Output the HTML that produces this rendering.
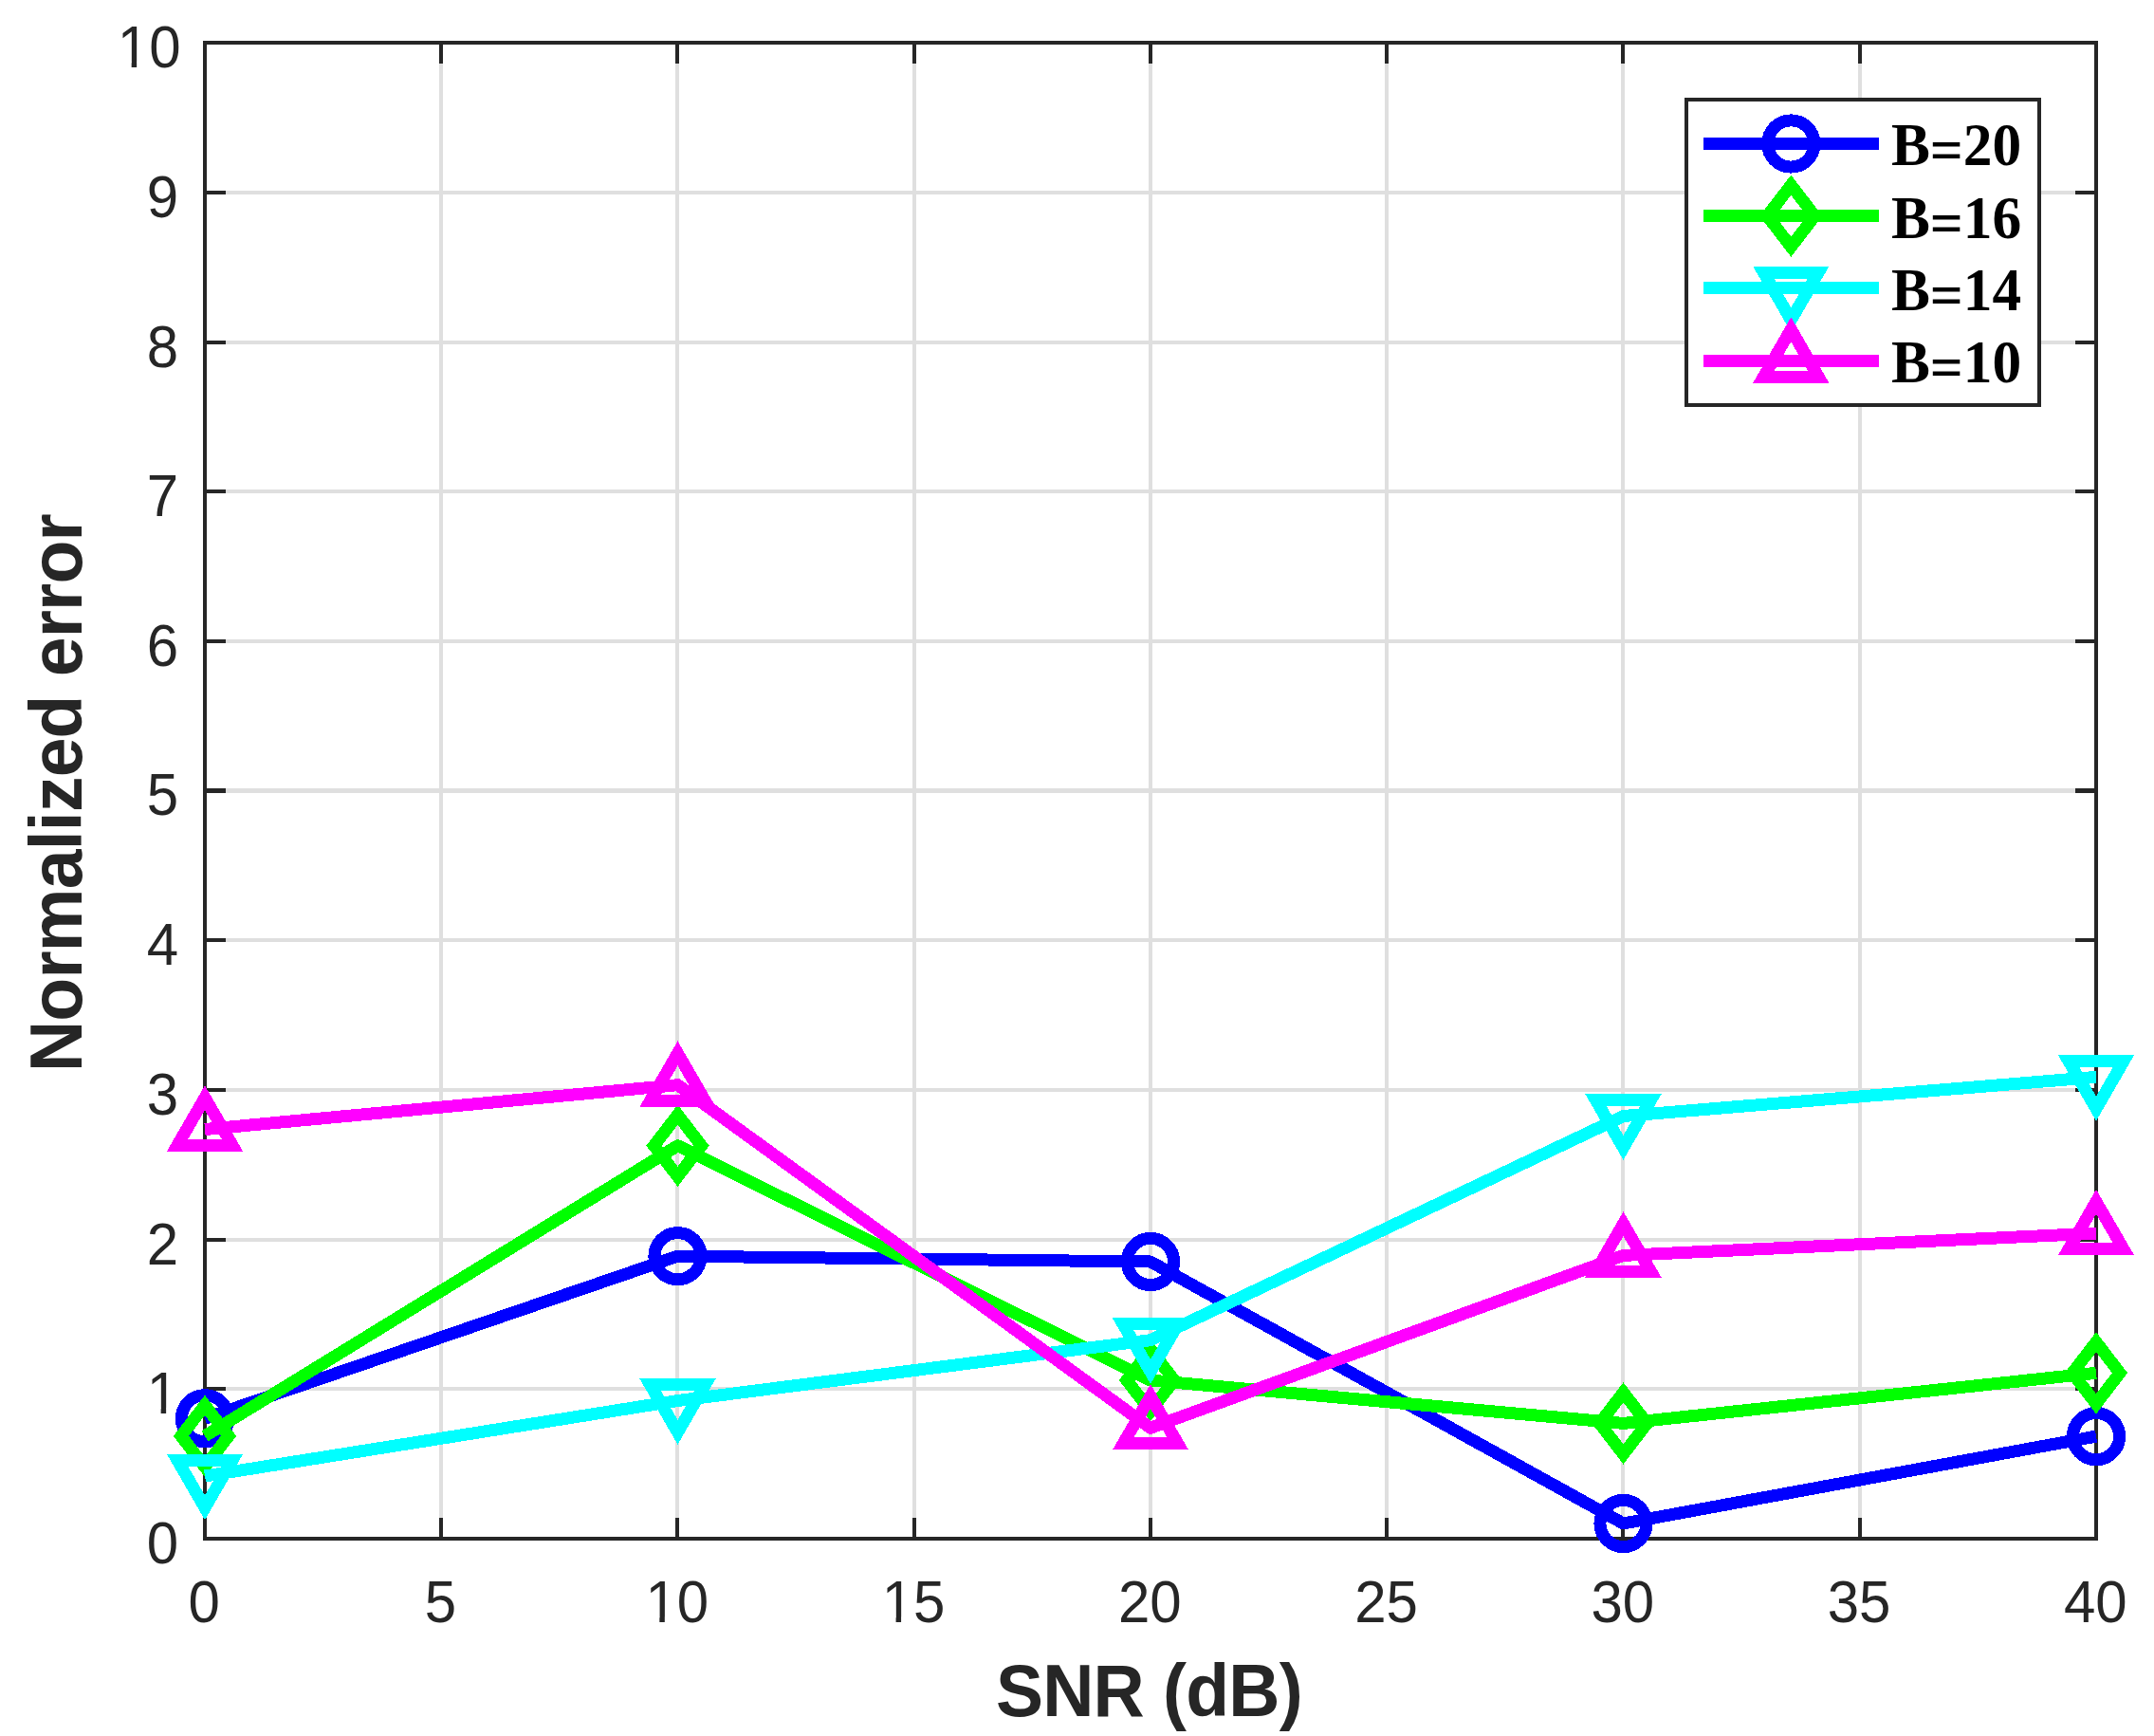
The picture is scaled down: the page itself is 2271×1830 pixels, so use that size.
<!DOCTYPE html>
<html><head><meta charset="utf-8"><title>Normalized error vs SNR</title>
<style>
html,body{margin:0;padding:0;background:#fff;}
body{width:2271px;height:1830px;overflow:hidden;}
svg{display:block;}
.tk{font-family:"Liberation Sans",Arial,Helvetica,sans-serif;font-size:60px;fill:#262626;}
.lb{font-family:"Liberation Sans",Arial,Helvetica,sans-serif;font-size:75px;font-weight:bold;fill:#262626;}
.lg{font-family:"Liberation Serif","Times New Roman",Times,serif;font-size:61.4px;font-weight:bold;fill:#000;}
</style></head><body>
<svg width="2271" height="1830" viewBox="0 0 2271 1830">
<rect x="0" y="0" width="2271" height="1830" fill="#fff"/>

<g stroke="#dfdfdf" stroke-width="4" fill="none">
<line x1="465" y1="45" x2="465" y2="1622"/>
<line x1="714" y1="45" x2="714" y2="1622"/>
<line x1="964" y1="45" x2="964" y2="1622"/>
<line x1="1213" y1="45" x2="1213" y2="1622"/>
<line x1="1462" y1="45" x2="1462" y2="1622"/>
<line x1="1711" y1="45" x2="1711" y2="1622"/>
<line x1="1961" y1="45" x2="1961" y2="1622"/>
<line x1="216" y1="1464" x2="2210" y2="1464"/>
<line x1="216" y1="1307" x2="2210" y2="1307"/>
<line x1="216" y1="1149" x2="2210" y2="1149"/>
<line x1="216" y1="991" x2="2210" y2="991"/>
<line x1="216" y1="833.5" x2="2210" y2="833.5" stroke-width="5"/>
<line x1="216" y1="676" x2="2210" y2="676"/>
<line x1="216" y1="518" x2="2210" y2="518"/>
<line x1="216" y1="361" x2="2210" y2="361"/>
<line x1="216" y1="203" x2="2210" y2="203"/>
</g>
<g stroke="#262626" stroke-width="4" fill="none">
<line x1="465" y1="1622" x2="465" y2="1600"/><line x1="465" y1="45" x2="465" y2="67"/>
<line x1="714" y1="1622" x2="714" y2="1600"/><line x1="714" y1="45" x2="714" y2="67"/>
<line x1="964" y1="1622" x2="964" y2="1600"/><line x1="964" y1="45" x2="964" y2="67"/>
<line x1="1213" y1="1622" x2="1213" y2="1600"/><line x1="1213" y1="45" x2="1213" y2="67"/>
<line x1="1462" y1="1622" x2="1462" y2="1600"/><line x1="1462" y1="45" x2="1462" y2="67"/>
<line x1="1711" y1="1622" x2="1711" y2="1600"/><line x1="1711" y1="45" x2="1711" y2="67"/>
<line x1="1961" y1="1622" x2="1961" y2="1600"/><line x1="1961" y1="45" x2="1961" y2="67"/>
<line x1="216" y1="1464" x2="238" y2="1464"/><line x1="2210" y1="1464" x2="2188" y2="1464"/>
<line x1="216" y1="1307" x2="238" y2="1307"/><line x1="2210" y1="1307" x2="2188" y2="1307"/>
<line x1="216" y1="1149" x2="238" y2="1149"/><line x1="2210" y1="1149" x2="2188" y2="1149"/>
<line x1="216" y1="991" x2="238" y2="991"/><line x1="2210" y1="991" x2="2188" y2="991"/>
<line x1="216" y1="833.5" x2="238" y2="833.5" stroke-width="5"/><line x1="2210" y1="833.5" x2="2188" y2="833.5" stroke-width="5"/>
<line x1="216" y1="676" x2="238" y2="676"/><line x1="2210" y1="676" x2="2188" y2="676"/>
<line x1="216" y1="518" x2="238" y2="518"/><line x1="2210" y1="518" x2="2188" y2="518"/>
<line x1="216" y1="361" x2="238" y2="361"/><line x1="2210" y1="361" x2="2188" y2="361"/>
<line x1="216" y1="203" x2="238" y2="203"/><line x1="2210" y1="203" x2="2188" y2="203"/>
<rect x="216" y="45" width="1994" height="1577"/>
</g>
<g class="tk" text-anchor="middle">
<text transform="translate(215.30 1710) scale(1 1.04)">0</text>
<text transform="translate(464.55 1710) scale(1 1.04)">5</text>
<text transform="translate(713.80 1710) scale(1 1.04)">10</text>
<text transform="translate(963.05 1710) scale(1 1.04)">15</text>
<text transform="translate(1212.30 1710) scale(1 1.04)">20</text>
<text transform="translate(1461.55 1710) scale(1 1.04)">25</text>
<text transform="translate(1710.80 1710) scale(1 1.04)">30</text>
<text transform="translate(1960.05 1710) scale(1 1.04)">35</text>
<text transform="translate(2209.30 1710) scale(1 1.04)">40</text>
</g>
<g class="tk" text-anchor="end">
<text transform="translate(188.1 1647.80) scale(1 1.04)">0</text>
<text transform="translate(188.1 1489.80) scale(1 1.04)">1</text>
<text transform="translate(188.1 1332.80) scale(1 1.04)">2</text>
<text transform="translate(188.1 1174.80) scale(1 1.04)">3</text>
<text transform="translate(188.1 1016.80) scale(1 1.04)">4</text>
<text transform="translate(188.1 859.30) scale(1 1.04)">5</text>
<text transform="translate(188.1 701.80) scale(1 1.04)">6</text>
<text transform="translate(188.1 543.80) scale(1 1.04)">7</text>
<text transform="translate(188.1 386.80) scale(1 1.04)">8</text>
<text transform="translate(188.1 228.80) scale(1 1.04)">9</text>
<text transform="translate(190.5 70.80) scale(1 1.04)">10</text>
</g>
<rect x="684.03" y="1704.65" width="11.30" height="6.6" fill="#fff"/><rect x="700.82" y="1704.65" width="11" height="6.6" fill="#fff"/>
<rect x="933.28" y="1704.65" width="11.30" height="6.6" fill="#fff"/><rect x="950.07" y="1704.65" width="11" height="6.6" fill="#fff"/>
<rect x="127.36" y="65.45" width="11.30" height="6.6" fill="#fff"/><rect x="144.15" y="65.45" width="11" height="6.6" fill="#fff"/>
<rect x="158.33" y="1484.45" width="11.30" height="6.6" fill="#fff"/><rect x="175.12" y="1484.45" width="11" height="6.6" fill="#fff"/>
<text class="lb" text-anchor="middle" letter-spacing="-0.75" transform="translate(1211.4 1809) scale(1 1.04)">SNR (dB)</text>
<text class="lb" text-anchor="middle" letter-spacing="-0.75" transform="translate(86 836) rotate(-90) scale(1 1.04)">Normalized error</text>
<g shape-rendering="crispEdges">
<polyline points="216,1495.2 714.5,1324.2 1213,1330 1711.5,1606 2210,1514.1" fill="none" stroke="#0000ff" stroke-width="13" stroke-linejoin="round" stroke-linecap="butt"/>
<circle cx="216" cy="1495.2" r="24.6" stroke="#0000ff" stroke-width="13" fill="none" stroke-linejoin="miter" stroke-miterlimit="10"/>
<circle cx="714.5" cy="1324.2" r="24.6" stroke="#0000ff" stroke-width="13" fill="none" stroke-linejoin="miter" stroke-miterlimit="10"/>
<circle cx="1213" cy="1330" r="24.6" stroke="#0000ff" stroke-width="13" fill="none" stroke-linejoin="miter" stroke-miterlimit="10"/>
<circle cx="1711.5" cy="1606" r="24.6" stroke="#0000ff" stroke-width="13" fill="none" stroke-linejoin="miter" stroke-miterlimit="10"/>
<circle cx="2210" cy="1514.1" r="24.6" stroke="#0000ff" stroke-width="13" fill="none" stroke-linejoin="miter" stroke-miterlimit="10"/>
<polyline points="216,1513.8 714.5,1207.7 1213,1455 1711.5,1500.4 2210,1447.3" fill="none" stroke="#00ff00" stroke-width="13" stroke-linejoin="round" stroke-linecap="butt"/>
<path d="M216 1481.3L241 1513.8L216 1546.3L191 1513.8Z" stroke="#00ff00" stroke-width="13" fill="none" stroke-linejoin="miter" stroke-miterlimit="10"/>
<path d="M714.5 1175.2L739.5 1207.7L714.5 1240.2L689.5 1207.7Z" stroke="#00ff00" stroke-width="13" fill="none" stroke-linejoin="miter" stroke-miterlimit="10"/>
<path d="M1213 1422.5L1238 1455L1213 1487.5L1188 1455Z" stroke="#00ff00" stroke-width="13" fill="none" stroke-linejoin="miter" stroke-miterlimit="10"/>
<path d="M1711.5 1467.9L1736.5 1500.4L1711.5 1532.9L1686.5 1500.4Z" stroke="#00ff00" stroke-width="13" fill="none" stroke-linejoin="miter" stroke-miterlimit="10"/>
<path d="M2210 1414.8L2235 1447.3L2210 1479.8L2185 1447.3Z" stroke="#00ff00" stroke-width="13" fill="none" stroke-linejoin="miter" stroke-miterlimit="10"/>
<polyline points="216,1556.0 714.5,1476.5 1213,1412.65 1711.5,1176.5 2210,1135.4" fill="none" stroke="#00ffff" stroke-width="13" stroke-linejoin="round" stroke-linecap="butt"/>
<path d="M216 1589.33L244.87 1539.33L187.13 1539.33Z" stroke="#00ffff" stroke-width="13" fill="none" stroke-linejoin="miter" stroke-miterlimit="10"/>
<path d="M714.5 1509.83L743.37 1459.83L685.63 1459.83Z" stroke="#00ffff" stroke-width="13" fill="none" stroke-linejoin="miter" stroke-miterlimit="10"/>
<path d="M1213 1445.98L1241.87 1395.98L1184.13 1395.98Z" stroke="#00ffff" stroke-width="13" fill="none" stroke-linejoin="miter" stroke-miterlimit="10"/>
<path d="M1711.5 1209.83L1740.37 1159.83L1682.63 1159.83Z" stroke="#00ffff" stroke-width="13" fill="none" stroke-linejoin="miter" stroke-miterlimit="10"/>
<path d="M2210 1168.73L2238.87 1118.73L2181.13 1118.73Z" stroke="#00ffff" stroke-width="13" fill="none" stroke-linejoin="miter" stroke-miterlimit="10"/>
<polyline points="216,1190.5 714.5,1143.7 1213,1505.25 1711.5,1323.4 2210,1300.1" fill="none" stroke="#ff00ff" stroke-width="13" stroke-linejoin="round" stroke-linecap="butt"/>
<path d="M216 1157.17L244.87 1207.17L187.13 1207.17Z" stroke="#ff00ff" stroke-width="13" fill="none" stroke-linejoin="miter" stroke-miterlimit="10"/>
<path d="M714.5 1110.37L743.37 1160.37L685.63 1160.37Z" stroke="#ff00ff" stroke-width="13" fill="none" stroke-linejoin="miter" stroke-miterlimit="10"/>
<path d="M1213 1471.92L1241.87 1521.92L1184.13 1521.92Z" stroke="#ff00ff" stroke-width="13" fill="none" stroke-linejoin="miter" stroke-miterlimit="10"/>
<path d="M1711.5 1290.07L1740.37 1340.07L1682.63 1340.07Z" stroke="#ff00ff" stroke-width="13" fill="none" stroke-linejoin="miter" stroke-miterlimit="10"/>
<path d="M2210 1266.77L2238.87 1316.77L2181.13 1316.77Z" stroke="#ff00ff" stroke-width="13" fill="none" stroke-linejoin="miter" stroke-miterlimit="10"/>
<rect x="1778" y="105" width="372" height="322" fill="#fff" stroke="#262626" stroke-width="4"/>
<line x1="1795.8" y1="151.5" x2="1981.2" y2="151.5" stroke="#0000ff" stroke-width="13"/>
<circle cx="1888.3" cy="151.5" r="24.6" stroke="#0000ff" stroke-width="13" fill="none" stroke-linejoin="miter" stroke-miterlimit="10"/>
<text class="lg" transform="translate(1993.9 173.9) scale(1 1.015)" dy="0 6 -6 0">B=20</text>
<line x1="1795.8" y1="227.65" x2="1981.2" y2="227.65" stroke="#00ff00" stroke-width="13"/>
<path d="M1888.3 195.15L1913.3 227.65L1888.3 260.15L1863.3 227.65Z" stroke="#00ff00" stroke-width="13" fill="none" stroke-linejoin="miter" stroke-miterlimit="10"/>
<text class="lg" transform="translate(1993.9 250.7) scale(1 1.015)" dy="0 6 -6 0">B=16</text>
<line x1="1795.8" y1="303.95" x2="1981.2" y2="303.95" stroke="#00ffff" stroke-width="13"/>
<path d="M1888.3 337.28L1917.17 287.28L1859.43 287.28Z" stroke="#00ffff" stroke-width="13" fill="none" stroke-linejoin="miter" stroke-miterlimit="10"/>
<text class="lg" transform="translate(1993.9 327.0) scale(1 1.015)" dy="0 6 -6 0">B=14</text>
<line x1="1795.8" y1="380.55" x2="1981.2" y2="380.55" stroke="#ff00ff" stroke-width="13"/>
<path d="M1888.3 347.22L1917.17 397.22L1859.43 397.22Z" stroke="#ff00ff" stroke-width="13" fill="none" stroke-linejoin="miter" stroke-miterlimit="10"/>
<text class="lg" transform="translate(1993.9 403.1) scale(1 1.015)" dy="0 6 -6 0">B=10</text>
</g>
</svg>
</body></html>
